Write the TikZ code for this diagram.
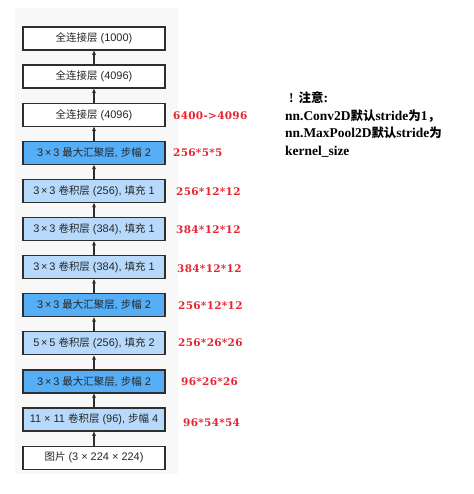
\documentclass[tikz,border=0pt]{standalone}
\usepackage{fontspec}
\usetikzlibrary{arrows.meta}
\setmainfont{Liberation Sans}
\newfontfamily\zhfont{Noto Sans CJK SC}
\newfontfamily\notefont{Liberation Serif}
\newfontfamily\redfont{DejaVu Serif}[LetterSpace=3]
\newcommand\zh[1]{{\zhfont\fontsize{10.5}{12}\selectfont #1}}
\newcommand\zhn[1]{{\zhfont\fontsize{12.5}{14}\selectfont #1}}
\definecolor{convfill}{HTML}{B7DAFC}
\definecolor{poolfill}{HTML}{56AEF7}
\definecolor{panelbg}{HTML}{F8F8F8}
\definecolor{edgecol}{HTML}{2E2E2E}
\definecolor{redtxt}{HTML}{E8232F}
\tikzset{
  layerbox/.style={draw=edgecol, line width=1.2bp, minimum width=142bp, minimum height=23bp,
    inner sep=0pt, text=black!85, font=\fontsize{11}{12}\selectfont},
  conv/.style={layerbox, fill=convfill},
  pool/.style={layerbox, fill=poolfill},
  plain/.style={layerbox, fill=white},
  arr/.style={draw=edgecol, line width=1.2bp, -{Stealth[length=4.5bp,width=4bp]}},
  lbl/.style={anchor=west, inner sep=0pt, text=redtxt, font=\redfont\bfseries\fontsize{10.5}{12}\selectfont},
  note/.style={anchor=base west, inner sep=0pt, text=black, font=\notefont\bfseries\fontsize{13.5}{15}\selectfont}
}
\begin{document}
\begin{tikzpicture}[x=1bp,y=-1bp]
\useasboundingbox (0,0) rectangle (474,494);
\fill[panelbg] (15,8) rectangle (178,474);
\node[plain] (b1)  at (94,38.5)  {\zh{全连接层} (1000)};
\node[plain] (b2)  at (94,76.6)  {\zh{全连接层} (4096)};
\node[plain] (b3)  at (94,114.7) {\zh{全连接层} (4096)};
\node[pool]  (b4)  at (94,152.8) {3\,×\,3 \zh{最大汇聚层}, \zh{步幅} 2};
\node[conv]  (b5)  at (94,190.9) {3\,×\,3 \zh{卷积层} (256), \zh{填充} 1};
\node[conv]  (b6)  at (94,229.0) {3\,×\,3 \zh{卷积层} (384), \zh{填充} 1};
\node[conv]  (b7)  at (94,267.1) {3\,×\,3 \zh{卷积层} (384), \zh{填充} 1};
\node[pool]  (b8)  at (94,305.2) {3\,×\,3 \zh{最大汇聚层}, \zh{步幅} 2};
\node[conv]  (b9)  at (94,343.3) {5\,×\,5 \zh{卷积层} (256), \zh{填充} 2};
\node[pool]  (b10) at (94,381.4) {3\,×\,3 \zh{最大汇聚层}, \zh{步幅} 2};
\node[conv]  (b11) at (94,419.5) {11 × 11 \zh{卷积层} (96), \zh{步幅} 4};
\node[plain] (b12) at (94,457.6) {\zh{图片} (3 × 224 × 224)};
\foreach \lo/\hi in {b2/b1,b3/b2,b4/b3,b5/b4,b6/b5,b7/b6,b8/b7,b9/b8,b10/b9,b11/b10,b12/b11}
  \draw[arr] (\lo.north) -- (\hi.south);
\node[lbl] (l3)  at (173,115.5) {6400->4096};
\node[lbl] (l4)  at (173,152.5) {256*5*5};
\node[lbl] (l5)  at (176,192)   {256*12*12};
\node[lbl] (l6)  at (176,230)   {384*12*12};
\node[lbl] (l7)  at (177,268.5) {384*12*12};
\node[lbl] (l8)  at (178,306)   {256*12*12};
\node[lbl] (l9)  at (178,343)   {256*26*26};
\node[lbl] (l10) at (181,382)   {96*26*26};
\node[lbl] (l11) at (183,422.5) {96*54*54};
\node[note] (n1) at (285,103)   {\hspace*{4bp}!\hspace{5bp}\zhn{注意}:};
\node[note] (n2) at (285,120.5) {nn.Conv2D\zhn{默认}stride\zhn{为}1\zhn{，}};
\node[note] (n3) at (285,138)   {nn.MaxPool2D\zhn{默认}stride\zhn{为}};
\node[note] (n4) at (285,155.5) {kernel\_size};
\end{tikzpicture}
\end{document}
